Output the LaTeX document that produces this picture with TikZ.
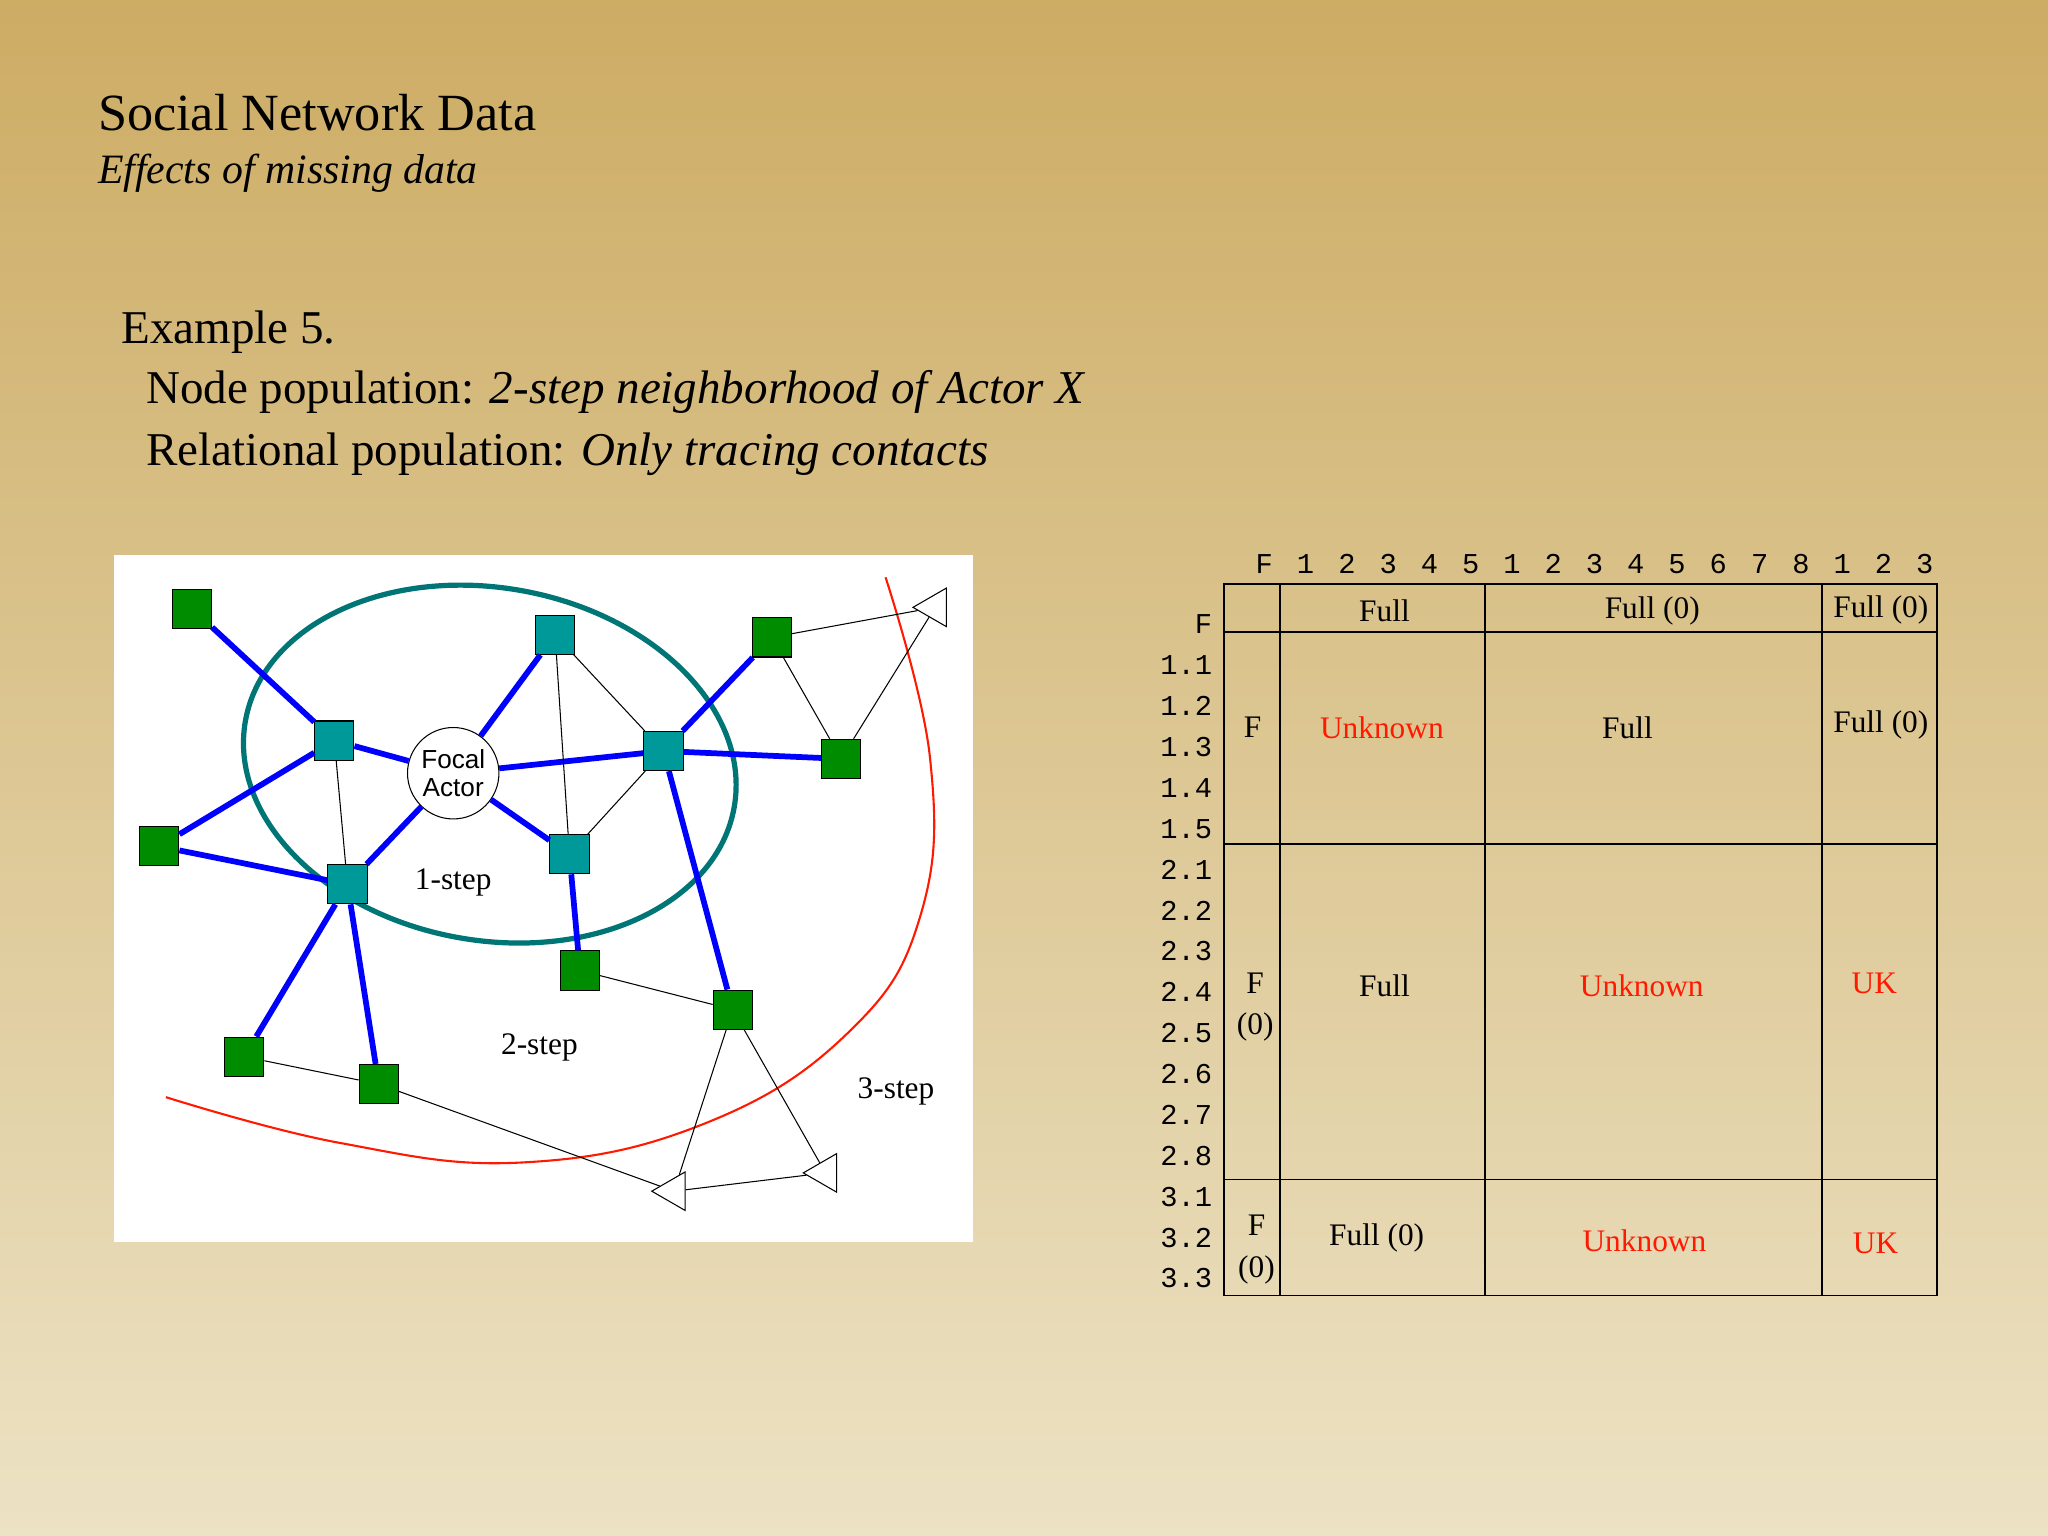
\documentclass[tikz,border=0pt]{standalone}
\usepackage{fontspec}
\usetikzlibrary{shapes.geometric}
\setmainfont{Liberation Serif}
\setsansfont{Liberation Sans}
\setmonofont{Liberation Mono}
\begin{document}
\begin{tikzpicture}[x=0.5pt,y=-0.5pt,
  gsq/.style={draw=black,fill=green!55!black,minimum size=15pt,inner sep=0pt},
  tsq/.style={draw=black,fill=teal!80!cyan,minimum size=15pt,inner sep=0pt},
  tri/.style={draw=black,fill=white,regular polygon,regular polygon sides=3,shape border rotate=90,minimum size=17pt,inner sep=0pt},
  thick blue/.style={line width=2.2pt,blue},
  thin/.style={black,line width=0.4pt},
  cell/.style={font=\fontsize{12}{13}\selectfont,align=center},
  red cell/.style={cell,text=red!80!orange},
  lab/.style={font=\ttfamily\fontsize{11}{12}\selectfont,anchor=east}]
\useasboundingbox (0,0) rectangle (1568,1176);
\shade[top color={rgb,255:red,205;green,172;blue,100}, bottom color={rgb,255:red,236;green,226;blue,196}] (0,0) rectangle (1568,1176);
\node[anchor=west,font=\fontsize{20}{22}\selectfont] (t1) at (68,86) {Social Network Data};
\node[anchor=west,font=\itshape\fontsize{16}{18}\selectfont] (t2) at (68,133) {Effects of missing data};
\node[anchor=west,font=\fontsize{18}{20}\selectfont] (t3) at (86,254) {Example 5.};
\node[anchor=west,font=\fontsize{18}{20}\selectfont] (t4) at (105,300) {Node population: \textit{2-step neighborhood of Actor X}};
\node[anchor=west,font=\fontsize{18}{20}\selectfont] (t5) at (105,348) {Relational population: \textit{Only tracing contacts}};
% panel
\fill[white] (87,425) rectangle (745,951);
\draw[teal!85!cyan!80!black,line width=2pt,rotate around={-10:(375,585)}] (375,585) ellipse (190 and 135);
\draw[red!80!orange,line width=0.8pt] plot[smooth,tension=0.7] coordinates {(127,840) (260,875) (400,890) (540,860) (650,790) (705,700) (712,580) (678,442)};
\node[draw,circle,fill=white,minimum size=35pt,inner sep=0pt,align=center,font=\sffamily\fontsize{10}{11}\selectfont] (fa) at (347,592) {Focal\\Actor};
\node[tsq] (a) at (425,486) {};
\node[tsq] (b) at (256,567) {};
\node[tsq] (c) at (508,575) {};
\node[tsq] (d) at (266,677) {};
\node[tsq] (e) at (436,654) {};
\node[gsq] (g1) at (147,466) {};
\node[gsq] (g2) at (591,488) {};
\node[gsq] (g3) at (644,581) {};
\node[gsq] (g4) at (122,648) {};
\node[gsq] (g5) at (444,743) {};
\node[gsq] (g6) at (561,773) {};
\node[gsq] (g7) at (187,809) {};
\node[gsq] (g8) at (290,830) {};
\node[tri] (r1) at (716,465) {};
\node[tri] (r2) at (632,898) {};
\node[tri] (r3) at (516,912) {};
\foreach \u/\v in {g1/b,b/fa,fa/a,fa/c,fa/d,fa/e,c/g2,c/g3,b/g4,g4/d,d/g7,d/g8,e/g5,c/g6}
  \draw[thick blue] (\u) -- (\v);
\foreach \u/\v in {b/d,a/e,a/c,c/e,g2/r1,r1/g3,g2/g3,g5/g6,g7/g8,g8/r3,g6/r3,g6/r2,r2/r3}
  \draw[thin] (\u) -- (\v);
\node[font=\fontsize{12}{13}\selectfont] (l1) at (347,676) {1-step};
\node[font=\fontsize{12}{13}\selectfont] (l2) at (413,802) {2-step};
\node[font=\fontsize{12}{13}\selectfont] (l3) at (686,836) {3-step};
% table
\draw[line width=0.6pt] (937,447) rectangle (1483,992);
\draw[line width=0.6pt] (937,484) -- (1483,484);
\draw[line width=0.6pt] (937,646) -- (1483,646);
\draw[line width=0.6pt] (937,903) -- (1483,903);
\foreach \x in {980,1137,1395} \draw[line width=0.6pt] (\x,447) -- (\x,992);
\foreach \s [count=\i from 0] in {F,1,2,3,4,5,1,2,3,4,5,6,7,8,1,2,3}
  \node[font=\ttfamily\fontsize{11}{12}\selectfont] (h\i) at ({968+\i*31.6},432) {\s};
\node[lab] (rf) at (935,478) {F};
\foreach \s [count=\i from 1] in {1.1,1.2,1.3,1.4,1.5,2.1,2.2,2.3,2.4,2.5,2.6,2.7,2.8,3.1,3.2,3.3}
  \node[lab] (rl\i) at (935,{478+\i*31.3}) {\s};
\node[cell] (c01) at (1060,468) {Full};
\node[cell] (c02) at (1265,468) {Full (0)};
\node[cell] (c03) at (1440,467) {Full (0)};
\node[cell] (c10) at (959,557) {F};
\node[red cell] (c11) at (1058,557) {Unknown};
\node[cell] (c12) at (1246,557) {Full};
\node[cell] (c13) at (1440,555) {Full (0)};
\node[cell,font=\fontsize{12}{16}\selectfont] (c20) at (961,771) {F\\(0)};
\node[cell] (c21) at (1060,755) {Full};
\node[red cell] (c22) at (1257,755) {Unknown};
\node[red cell] (c23) at (1435,753) {UK};
\node[cell,font=\fontsize{12}{16}\selectfont] (c30) at (962,957) {F\\(0)};
\node[cell] (c31) at (1054,948) {Full (0)};
\node[red cell] (c32) at (1259,950) {Unknown};
\node[red cell] (c33) at (1436,952) {UK};
\end{tikzpicture}
\end{document}
